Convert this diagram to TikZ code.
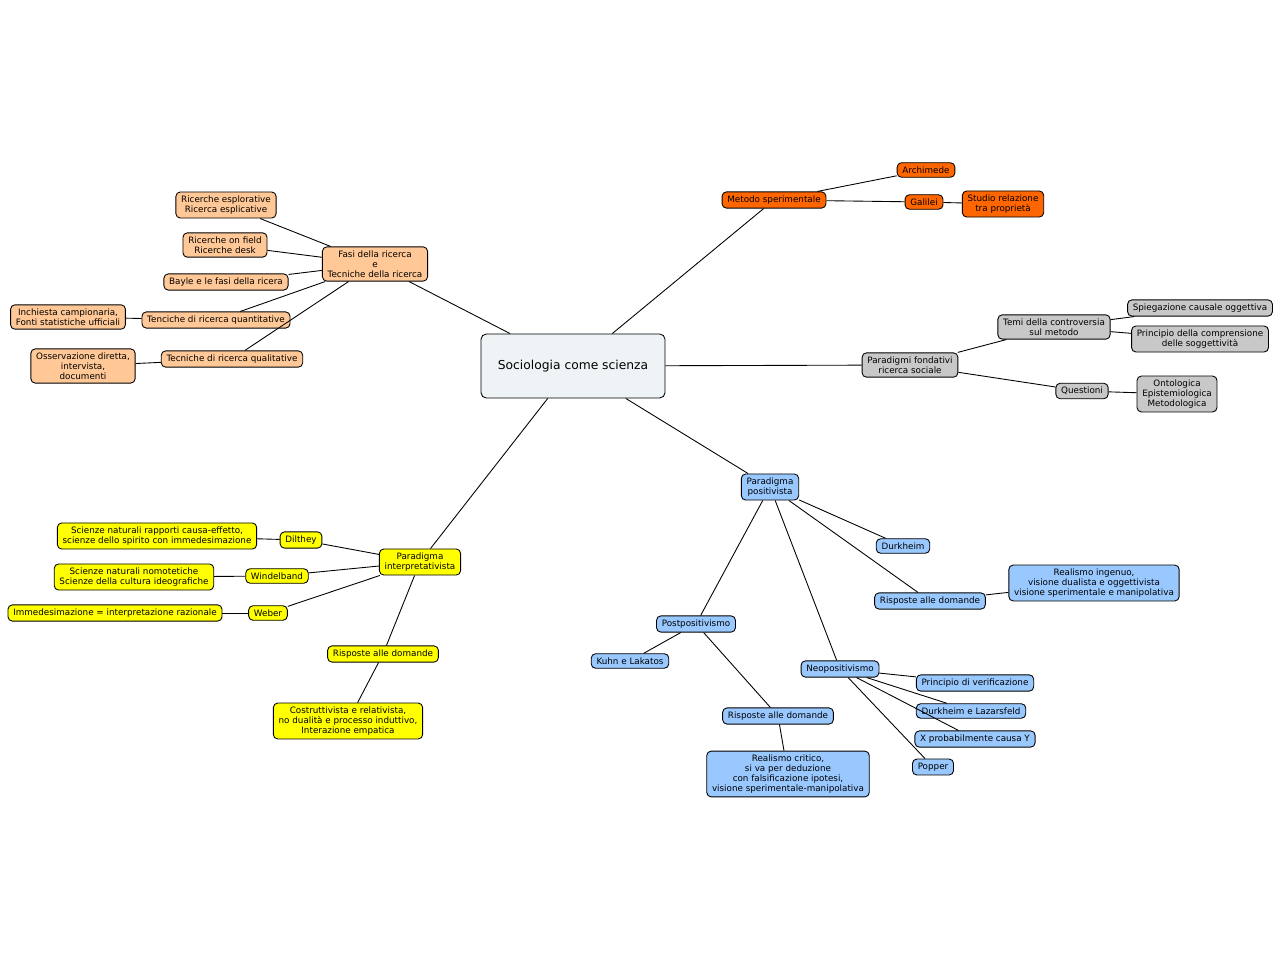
\documentclass[tikz,border=0pt]{standalone}
\usepackage{fontspec}
\setmainfont{DejaVu Sans}
\definecolor{cOrange}{HTML}{FF6600}
\definecolor{cPeach}{HTML}{FFC896}
\definecolor{cGrey}{HTML}{C8C8C8}
\definecolor{cBlue}{HTML}{99C8FF}
\definecolor{cYellow}{HTML}{FFFF00}
\definecolor{cCenter}{HTML}{EEF4F6}
\begin{document}
\begin{tikzpicture}[x=0.02cm,y=-0.02cm,
  topic/.style={draw,rounded corners=2.5pt,align=center,inner xsep=3pt,inner ysep=2.2pt,font=\fontsize{5}{5.6}\selectfont},
  orange/.style={topic,fill=cOrange},peach/.style={topic,fill=cPeach},
  grey/.style={topic,fill=cGrey},blue/.style={topic,fill=cBlue},yellow/.style={topic,fill=cYellow},
  every path/.style={line width=0.5pt}]
\useasboundingbox (0,0) rectangle (1280,963);
\node [draw,rounded corners=3pt,fill=cCenter,minimum width=3.68cm,minimum height=1.28cm,font=\fontsize{7}{8}\selectfont] (S) at (573,366) {Sociologia come scienza};
% metodo sperimentale
\node [orange] (MS) at (774,200) {Metodo sperimentale};
\node [orange] (Arc) at (926,170) {Archimede};
\node [orange] (Gal) at (924,202) {Galilei};
\node [orange] (Stu) at (1003,204) {Studio relazione\\tra propriet\`a};
% paradigmi fondativi
\node [grey] (PF) at (910,365) {Paradigmi fondativi\\ricerca sociale};
\node [grey] (Tem) at (1054,327) {Temi della controversia\\sul metodo};
\node [grey] (Spi) at (1200,308) {Spiegazione causale oggettiva};
\node [grey] (Pri) at (1200,339) {Principio della comprensione\\delle soggettivit\`a};
\node [grey] (Que) at (1082,391) {Questioni};
\node [grey] (Ont) at (1177,394) {Ontologica\\Epistemiologica\\Metodologica};
% paradigma positivista
\node [blue] (PP) at (770,487) {Paradigma\\positivista};
\node [blue] (Dur) at (903,546) {Durkheim};
\node [blue] (RP) at (930,601) {Risposte alle domande};
\node [blue] (RI) at (1094,583) {Realismo ingenuo,\\visione dualista e oggettivista\\visione sperimentale e manipolativa};
\node [blue] (Pos) at (696,624) {Postpositivismo};
\node [blue] (Kuh) at (630,661) {Kuhn e Lakatos};
\node [blue] (RPP) at (778,716) {Risposte alle domande};
\node [blue] (RC) at (788,774) {Realismo critico,\\si va per deduzione\\con falsificazione ipotesi,\\visione sperimentale-manipolativa};
\node [blue] (Neo) at (840,669) {Neopositivismo};
\node [blue] (Ver) at (975,683) {Principio di verificazione};
\node [blue] (DL) at (971,711) {Durkheim e Lazarsfeld};
\node [blue] (XY) at (975,739) {X probabilmente causa Y};
\node [blue] (Pop) at (933,767) {Popper};
% fasi della ricerca
\node [peach] (FR) at (375,264) {Fasi della ricerca\\e\\Tecniche della ricerca};
\node [peach] (RE) at (226,205) {Ricerche esplorative\\Ricerca esplicative};
\node [peach] (RF) at (225,245) {Ricerche on field\\Ricerche desk};
\node [peach] (Bay) at (226,282) {Bayle e le fasi della ricera};
\node [peach] (TQn) at (216,320) {Tenciche di ricerca quantitative};
\node [peach] (Inc) at (68,317) {Inchiesta campionaria,\\Fonti statistiche ufficiali};
\node [peach] (TQl) at (232,359) {Tecniche di ricerca qualitative};
\node [peach] (Oss) at (83,366) {Osservazione diretta,\\intervista,\\documenti};
% paradigma interpretativista
\node [yellow] (PI) at (420,562) {Paradigma\\interpretativista};
\node [yellow] (Dil) at (301,540) {Dilthey};
\node [yellow] (SNR) at (157,536) {Scienze naturali rapporti causa-effetto,\\scienze dello spirito con immedesimazione};
\node [yellow] (Win) at (277,576) {Windelband};
\node [yellow] (SNN) at (134,577) {Scienze naturali nomotetiche\\Scienze della cultura ideografiche};
\node [yellow] (Web) at (268,613) {Weber};
\node [yellow] (Imm) at (115,613) {Immedesimazione = interpretazione razionale};
\node [yellow] (RPI) at (383,654) {Risposte alle domande};
\node [yellow] (Cos) at (348,721) {Costruttivista e relativista,\\no dualit\`a e processo induttivo,\\Interazione empatica};
%
\draw (S) -- (MS); \draw (S) -- (PF); \draw (S) -- (PP); \draw (S) -- (FR); \draw (S) -- (PI);
\draw (MS) -- (Arc); \draw (MS) -- (Gal); \draw (Gal) -- (Stu);
\draw (PF) -- (Tem); \draw (PF) -- (Que); \draw (Tem) -- (Spi); \draw (Tem) -- (Pri); \draw (Que) -- (Ont);
\draw (PP) -- (Dur); \draw (PP) -- (RP); \draw (RP) -- (RI); \draw (PP) -- (Pos); \draw (PP) -- (Neo);
\draw (Pos) -- (Kuh); \draw (Pos) -- (RPP); \draw (RPP) -- (RC);
\draw (Neo) -- (Ver); \draw (Neo) -- (DL); \draw (Neo) -- (XY); \draw (Neo) -- (Pop);
\draw (FR) -- (RE); \draw (FR) -- (RF); \draw (FR) -- (Bay); \draw (FR) -- (TQn); \draw (FR) -- (TQl);
\draw (TQn) -- (Inc); \draw (TQl) -- (Oss);
\draw (PI) -- (Dil); \draw (PI) -- (Win); \draw (PI) -- (Web); \draw (PI) -- (RPI);
\draw (Dil) -- (SNR); \draw (Win) -- (SNN); \draw (Web) -- (Imm); \draw (RPI) -- (Cos);
\end{tikzpicture}
\end{document}
